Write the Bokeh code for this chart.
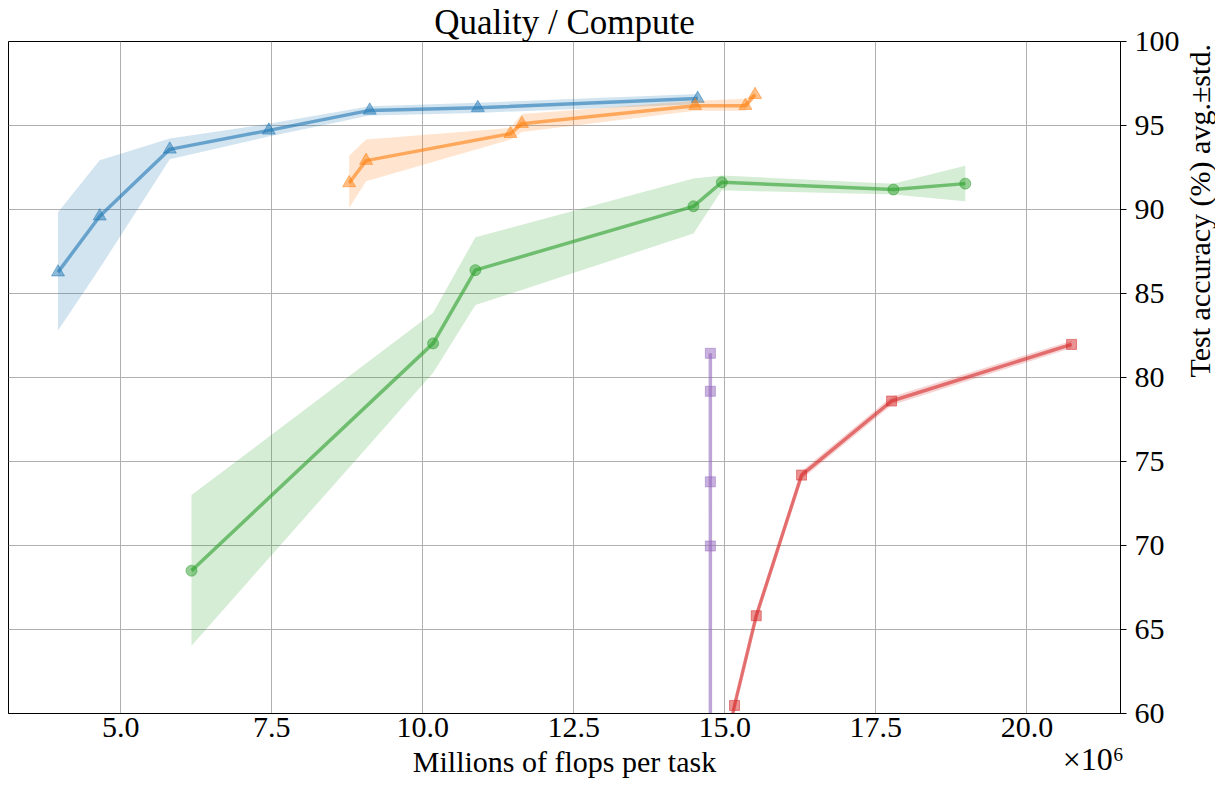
import math
from bokeh.plotting import figure
from bokeh.models import Range1d, FixedTicker, PrintfTickFormatter, LinearAxis
from bokeh.embed import file_html
from bokeh.resources import INLINE

# ---- data (x: millions of flops per task, y: test accuracy %) ----
blue_x = [3.96, 4.65, 5.81, 7.45, 9.12, 10.91, 14.55]
blue_y = [86.27, 89.60, 93.58, 94.71, 95.90, 96.05, 96.60]
blue_lo = [82.80, 86.50, 92.99, 94.34, 95.60, 95.75, 96.27]
blue_hi = [89.84, 92.93, 94.23, 95.10, 96.15, 96.35, 96.87]

orange_x = [8.78, 9.06, 11.45, 11.64, 14.51, 15.34, 15.50]
orange_y = [91.58, 92.91, 94.51, 95.11, 96.18, 96.18, 96.83]
orange_lo = [90.09, 91.68, 94.16, 94.61, 95.88, 95.88, 96.73]
orange_hi = [93.20, 94.16, 94.85, 95.68, 96.47, 96.59, 96.93]

green_x = [6.17, 10.17, 10.87, 14.48, 14.95, 17.79, 18.98]
green_y = [68.50, 82.03, 86.39, 90.19, 91.62, 91.19, 91.54]
green_lo = [64.04, 80.29, 84.31, 88.57, 91.14, 90.89, 90.49]
green_hi = [73.00, 83.85, 88.35, 91.84, 92.02, 91.54, 92.61]

red_x = [15.05, 15.16, 15.52, 16.27, 17.76, 20.74]
red_y = [58.60, 60.48, 65.82, 74.19, 78.60, 81.97]
red_lo = [58.35, 60.23, 65.57, 73.94, 78.35, 81.75]
red_hi = [58.85, 60.73, 66.07, 74.44, 78.85, 82.19]

purple_x = [14.76, 14.76, 14.76, 14.76, 14.76]
purple_y = [52.00, 69.97, 73.79, 79.18, 81.44]
purple_lo = [51.80, 69.80, 73.60, 79.00, 81.25]
purple_hi = [52.20, 70.14, 73.98, 79.36, 81.63]

x_ticks = [5.0, 7.5, 10.0, 12.5, 15.0, 17.5, 20.0]
y_ticks = [60, 65, 70, 75, 80, 85, 90, 95, 100]
x_offset_pos = 21.10          # where the axis offset text sits (data units)
x_offset_text = "\u00d710\u2076"

FONT = "Liberation Serif"

p = figure(frame_width=1112, frame_height=672,
           x_range=Range1d(3.14, 21.55), y_range=Range1d(60, 100),
           y_axis_location="right", output_backend="svg", toolbar_location=None,
           min_border_left=8, min_border_top=0, min_border_bottom=0, min_border_right=0,
           title="Quality / Compute")

p.title.text_font = FONT
p.title.text_font_size = "35px"
p.title.text_font_style = "normal"
p.title.align = "center"
p.title.standoff = 0
p.title.text_color = "black"

p.outline_line_color = "black"
p.outline_line_alpha = 1.0
p.outline_line_width = 1

p.xgrid.ticker = FixedTicker(ticks=x_ticks)
p.ygrid.ticker = FixedTicker(ticks=y_ticks)
for g in (p.xgrid, p.ygrid):
    g.grid_line_color = "#b0b0b0"
    g.grid_line_width = 1

# main x axis: tick labels only
xa = p.xaxis[0]
xa.ticker = FixedTicker(ticks=x_ticks)
xa.formatter = PrintfTickFormatter(format="%.1f")
xa.major_tick_out = 0
xa.major_tick_in = 0
xa.minor_tick_out = 0
xa.minor_tick_in = 0
xa.major_label_standoff = 4

# second row under the x axis: axis title + offset text on one line
xb = LinearAxis(ticker=FixedTicker(ticks=[x_offset_pos]),
                major_label_overrides={x_offset_pos: x_offset_text},
                axis_label="Millions of flops per task")
xb.axis_line_color = None
xb.major_tick_line_color = None
xb.minor_tick_line_color = None
xb.major_tick_out = 0
xb.major_tick_in = 0
xb.minor_tick_out = 0
xb.minor_tick_in = 0
xb.major_label_standoff = 1
xb.axis_label_standoff = -35
p.add_layout(xb, "below")

ya = p.yaxis[0]
ya.ticker = FixedTicker(ticks=y_ticks)
ya.major_tick_out = 6
ya.major_tick_in = 0
ya.minor_tick_out = 0
ya.minor_tick_in = 0
ya.axis_label = "Test accuracy (%) avg.\u00b1std."
ya.axis_label_orientation = math.pi / 2
ya.major_label_standoff = 8
ya.axis_label_standoff = 17

for ax in (xa, xb, ya):
    ax.major_label_text_font = FONT
    ax.major_label_text_font_size = "30px"
    ax.major_label_text_color = "black"
    ax.axis_label_text_font = FONT
    ax.axis_label_text_font_size = "30px"
    ax.axis_label_text_font_style = "normal"
    ax.axis_label_text_color = "black"
xb.major_label_text_font_size = "32px"
for ax in (xa, ya):
    ax.axis_line_color = "black"
    ax.major_tick_line_color = "black"

series = [
    (blue_x, blue_y, blue_lo, blue_hi, "#1f77b4", "triangle"),
    (orange_x, orange_y, orange_lo, orange_hi, "#ff7f0e", "triangle"),
    (green_x, green_y, green_lo, green_hi, "#2ca02c", "circle"),
    (red_x, red_y, red_lo, red_hi, "#d62728", "square"),
    (purple_x, purple_y, purple_lo, purple_hi, "#9467bd", "square"),
]

for xs, ys, lo, hi, col, mk in series:
    p.varea(x=xs, y1=lo, y2=hi, fill_color=col, fill_alpha=0.2)
    p.line(xs, ys, line_color=col, line_width=3.5, line_alpha=0.6)
    size = {"triangle": 13, "circle": 11, "square": 10}[mk]
    p.scatter(xs, ys, marker=mk, size=size, fill_color=col, fill_alpha=0.5,
              line_color=col, line_alpha=0.5)

open("out.html", "w").write(file_html(p, INLINE))
